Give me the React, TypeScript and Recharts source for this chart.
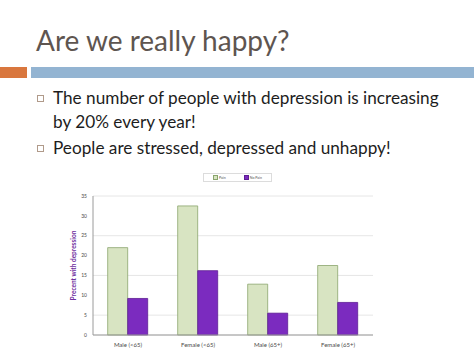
import { BarChart, Bar, XAxis, YAxis, CartesianGrid, Legend } from 'recharts';

const groups = ['Male (<65)', 'Female (<65)', 'Male (65+)', 'Female (65+)'];
const painValues = [22, 32.5, 12.8, 17.5];
const noPainValues = [9.2, 16.2, 5.5, 8.2];
const yTicks = [0, 5, 10, 15, 20, 25, 30, 35];

const chartData = groups.map((g, i) => ({ group: g, pain: painValues[i], noPain: noPainValues[i] }));

const slideFont = 'Lato, "Open Sans", sans-serif';

const legendItems = [
  { label: 'Pain', fill: '#d8e4c2', stroke: '#8aa56c' },
  { label: 'No Pain', fill: '#7b2bbf', stroke: '#5e1e93' },
];

function BoxLegend() {
  return (
    <div style={{ display: 'flex', justifyContent: 'space-around', alignItems: 'center', height: '100%', fontSize: 3.5, color: '#555', fontFamily: slideFont }}>
      {legendItems.map((it) => (
        <span key={it.label} style={{ display: 'flex', alignItems: 'center', gap: 1 }}>
          <span style={{ display: 'inline-block', width: 3, height: 3, background: it.fill, border: `0.5px solid ${it.stroke}` }} />
          {it.label}
        </span>
      ))}
    </div>
  );
}

export default function App() {
  return (
    <div style={{ position: 'fixed', left: 0, top: 0, width: 474, height: 355, background: '#fff', overflow: 'hidden', fontFamily: slideFont }}>
      <div style={{ position: 'absolute', left: 36, top: 23, fontSize: 28, color: '#5e5550', whiteSpace: 'nowrap' }}>
        Are we really happy?
      </div>
      <div style={{ position: 'absolute', left: 0, top: 67, width: 27, height: 11, background: '#d9773e' }} />
      <div style={{ position: 'absolute', left: 31, top: 67, width: 443, height: 11, background: '#93b4d2' }} />

      <div style={{ position: 'absolute', left: 37, top: 95, width: 5, height: 5, border: '1px solid #b09a8a' }} />
      <div style={{ position: 'absolute', left: 53, top: 86, fontSize: 17.2, color: '#1d1d1d', lineHeight: '24px', whiteSpace: 'nowrap' }}>
        The number of people with depression is increasing
        <br />
        by 20% every year!
      </div>
      <div style={{ position: 'absolute', left: 37, top: 145, width: 5, height: 5, border: '1px solid #b09a8a' }} />
      <div style={{ position: 'absolute', left: 53, top: 136, fontSize: 17.2, color: '#1d1d1d', lineHeight: '24px', whiteSpace: 'nowrap' }}>
        People are stressed, depressed and unhappy!
      </div>

      <div style={{ position: 'absolute', left: 60, top: 168 }}>
        <BarChart
          width={320}
          height={187}
          data={chartData}
          margin={{ top: 19, right: 7, bottom: 0, left: 0 }}
          barCategoryGap="21%"
          barGap={0}
          style={{ fontFamily: slideFont }}
        >
          <CartesianGrid vertical={false} stroke="#e6e6e6" />
          <XAxis
            dataKey="group"
            height={20}
            tickLine={false}
            axisLine={{ stroke: '#9a9a9a' }}
            tick={{ fontSize: 6, fill: '#4a4a4a' }}
            tickMargin={2}
            interval={0}
          />
          <XAxis xAxisId="top" orientation="top" dataKey="group" height={0} tick={false} tickLine={false} axisLine={{ stroke: '#9a9a9a' }} />
          <YAxis
            domain={[0, 35]}
            ticks={yTicks}
            width={33}
            tickLine={false}
            axisLine={{ stroke: '#9a9a9a' }}
            tick={{ fontSize: 5, fill: '#4a4a4a' }}
            tickMargin={0}
            label={{
              value: 'Precent with depression',
              angle: -90,
              position: 'insideLeft',
              offset: 14,
              fontSize: 6.5,
              fontWeight: 700,
              fill: '#7030a0',
              style: { textAnchor: 'middle' },
            }}
          />
          <YAxis yAxisId="right" orientation="right" domain={[0, 35]} width={0} tick={false} tickLine={false} axisLine={{ stroke: '#9a9a9a' }} />
          <Legend
            verticalAlign="top"
            content={BoxLegend}
            wrapperStyle={{
              position: 'absolute',
              left: 143,
              top: 5,
              width: 69,
              height: 9,
              border: '1px solid #dcdcdc',
              boxSizing: 'border-box',
            }}
          />
          <Bar dataKey="pain" name="Pain" fill="#d8e4c2" stroke="#8aa56c" strokeWidth={0.8} isAnimationActive={false} />
          <Bar dataKey="noPain" name="No Pain" fill="#7b2bbf" stroke="#5e1e93" strokeWidth={0.8} isAnimationActive={false} />
        </BarChart>
      </div>
    </div>
  );
}
